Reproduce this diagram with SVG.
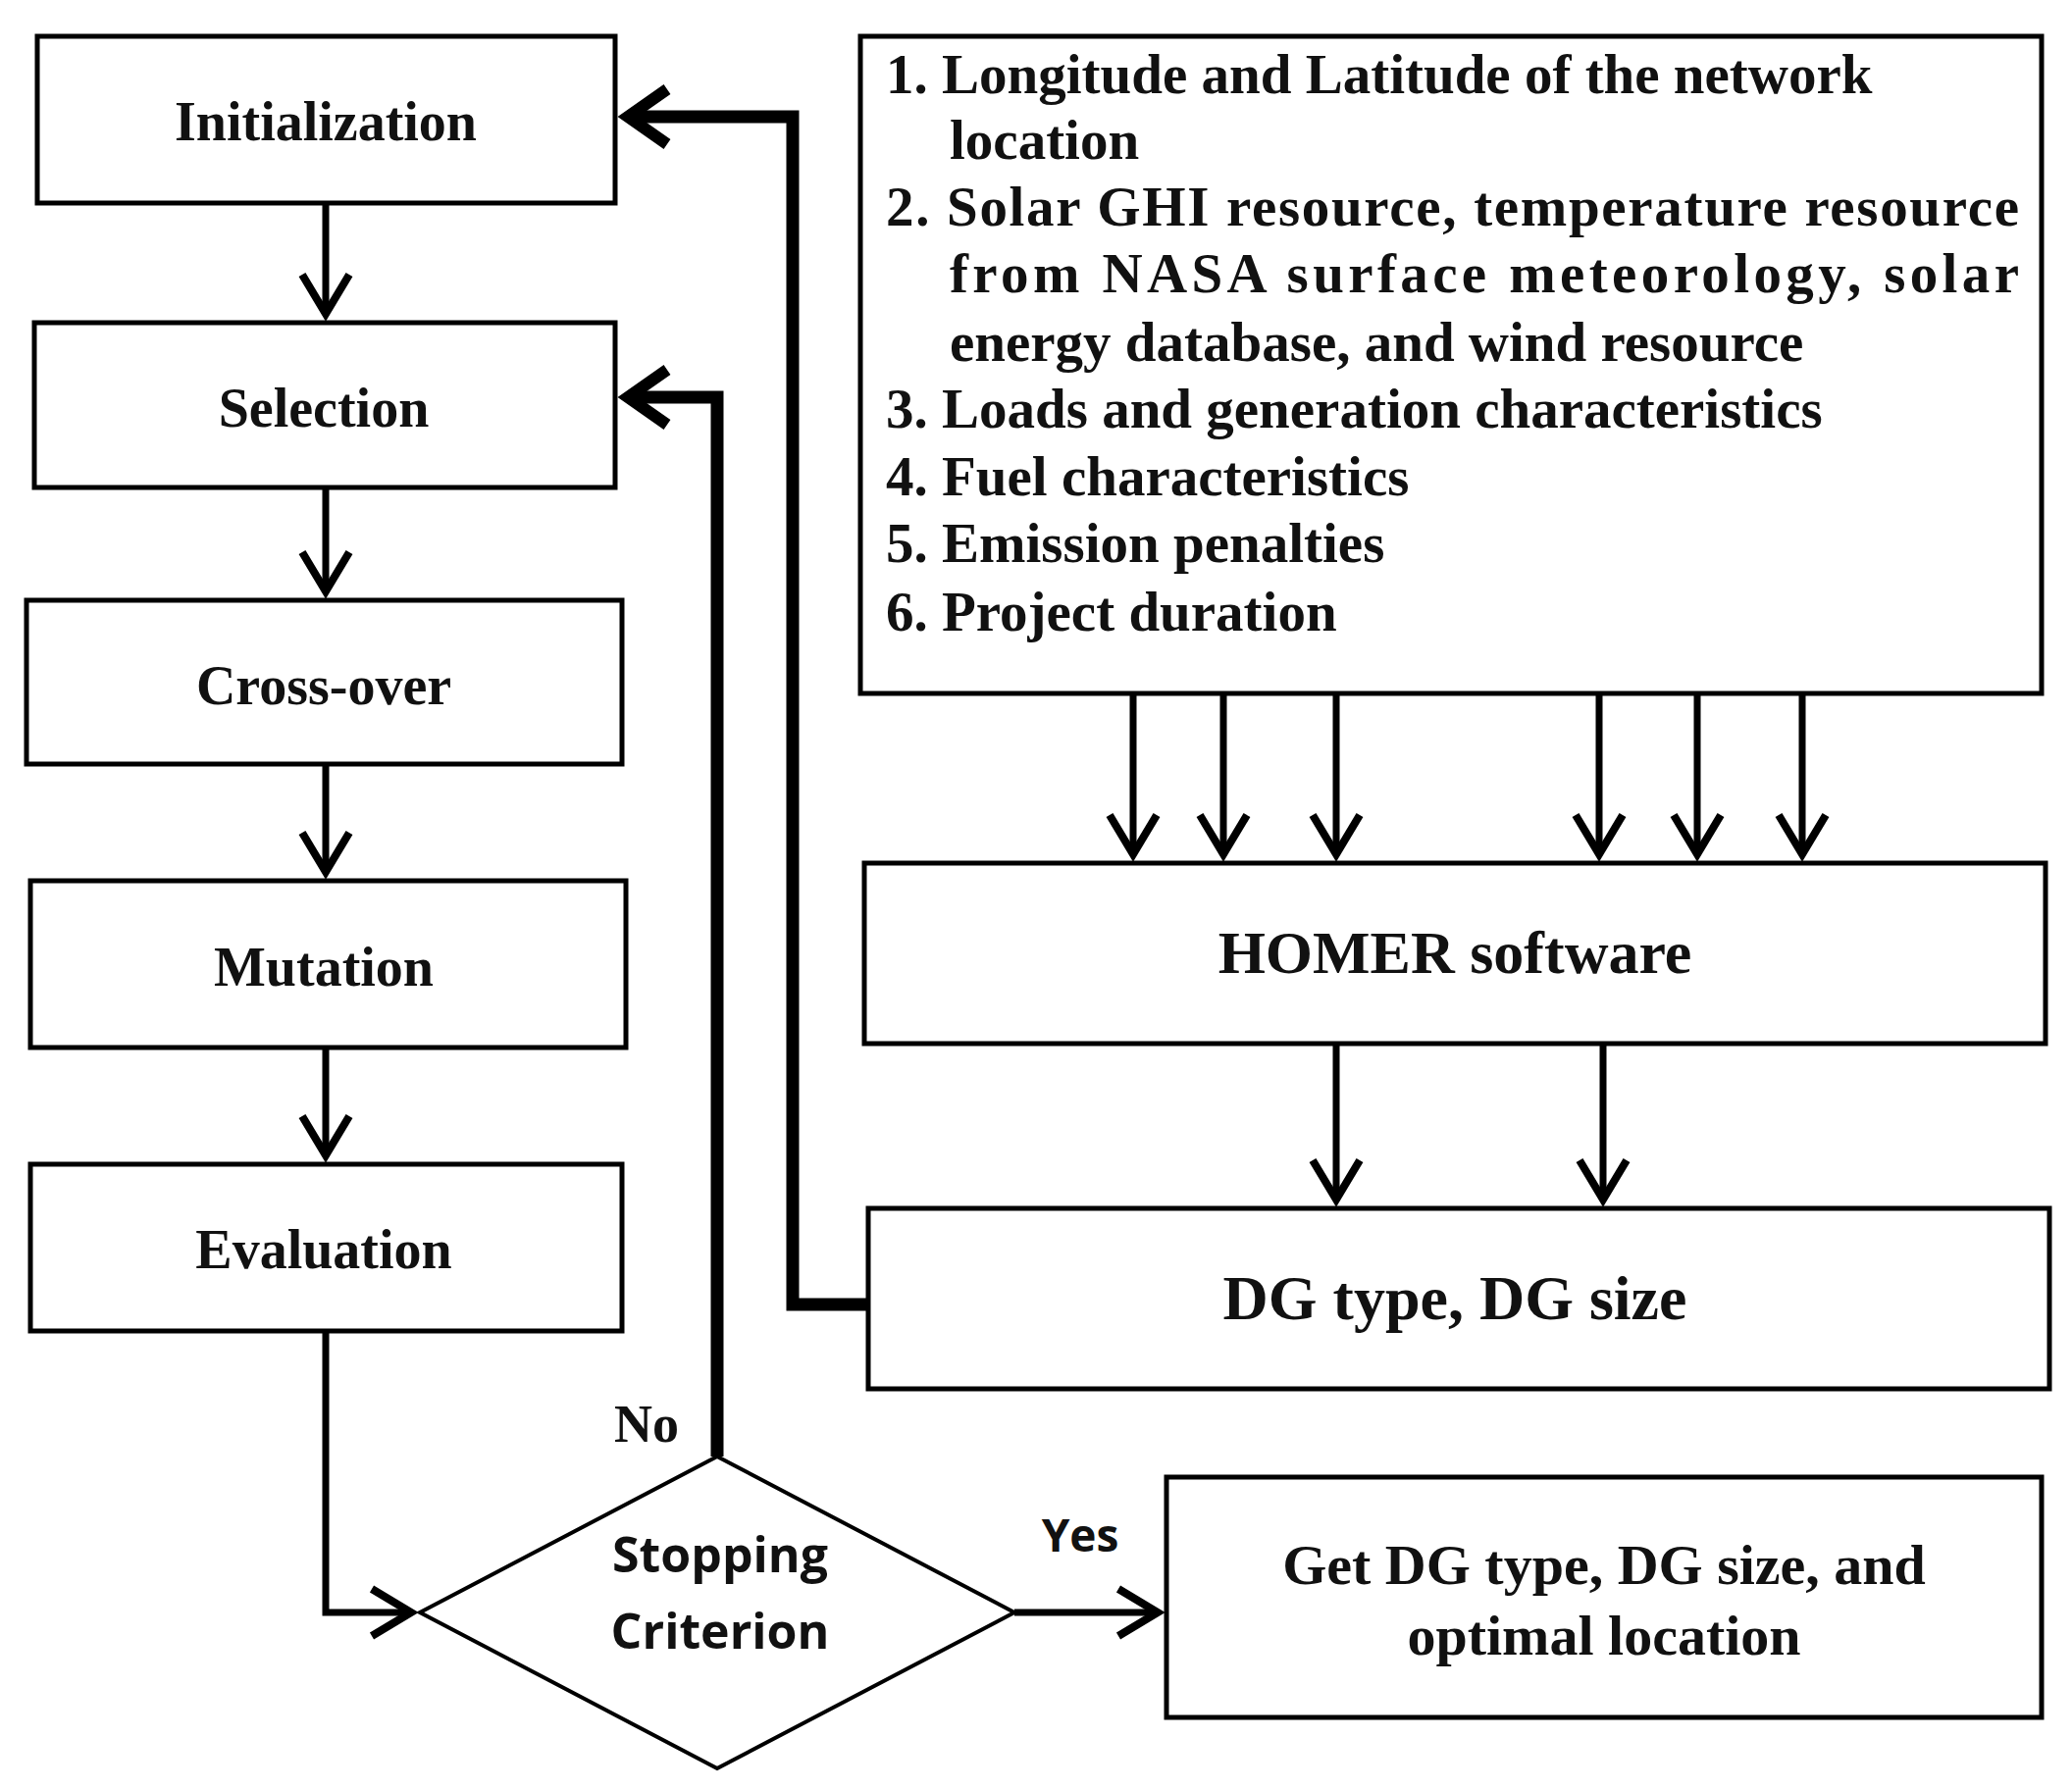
<svg xmlns="http://www.w3.org/2000/svg" width="2112" height="1824" viewBox="0 0 2112 1824">
<style>
.box{fill:#fff;stroke:#000;stroke-width:5}
.t{font-family:"Liberation Serif",serif;font-weight:bold;fill:#111}
.s{font-family:"Open Sans","Liberation Sans",sans-serif;font-weight:bold;fill:#111}
.c{fill:none;stroke:#000;stroke-width:7}
.f{fill:none;stroke:#000;stroke-width:13}
</style>
<defs>
<marker id="ah" viewBox="-50 -30 60 60" refX="0" refY="0" markerWidth="60" markerHeight="60" markerUnits="userSpaceOnUse" orient="auto" overflow="visible">
<path d="M-40,-24 L0,0 L-40,24" fill="none" stroke="#000" stroke-width="8"/>
</marker>
<marker id="ahf" viewBox="-50 -30 60 60" refX="0" refY="0" markerWidth="60" markerHeight="60" markerUnits="userSpaceOnUse" orient="auto" overflow="visible">
<path d="M-40,-28 L0,0 L-40,28" fill="none" stroke="#000" stroke-width="12"/>
</marker>
</defs>
<g id="connectors">
<path class="c" d="M332,207 V320" marker-end="url(#ah)"/>
<path class="c" d="M332,497 V603" marker-end="url(#ah)"/>
<path class="c" d="M332,779 V889" marker-end="url(#ah)"/>
<path class="c" d="M332,1068 V1178" marker-end="url(#ah)"/>
<path class="c" d="M332,1357 V1644 H419" marker-end="url(#ah)"/>
<path class="c" d="M1034,1644 H1180" marker-end="url(#ah)"/>
<path class="f" d="M731,1485 V405 H640" marker-end="url(#ahf)"/>
<path class="f" d="M885,1330 H808 V119 H640" marker-end="url(#ahf)"/>
<path class="c" d="M1155,707 V871" marker-end="url(#ah)"/>
<path class="c" d="M1247,707 V871" marker-end="url(#ah)"/>
<path class="c" d="M1362,707 V871" marker-end="url(#ah)"/>
<path class="c" d="M1630,707 V871" marker-end="url(#ah)"/>
<path class="c" d="M1730,707 V871" marker-end="url(#ah)"/>
<path class="c" d="M1837,707 V871" marker-end="url(#ah)"/>
<path class="c" d="M1362,1064 V1223" marker-end="url(#ah)"/>
<path class="c" d="M1634,1064 V1223" marker-end="url(#ah)"/>
</g>
<g id="init"><rect class="box" x="38" y="37" width="589" height="170"/><text class="t" x="332" y="143" font-size="56" text-anchor="middle">Initialization</text></g>
<g id="sel"><rect class="box" x="35" y="329" width="592" height="168"/><text class="t" x="330" y="435" font-size="56" text-anchor="middle">Selection</text></g>
<g id="cross"><rect class="box" x="27" y="612" width="607" height="167"/><text class="t" x="330" y="718" font-size="56" text-anchor="middle">Cross-over</text></g>
<g id="mut"><rect class="box" x="31" y="898" width="607" height="170"/><text class="t" x="330" y="1005" font-size="56" text-anchor="middle">Mutation</text></g>
<g id="eval"><rect class="box" x="31" y="1187" width="603" height="170"/><text class="t" x="330" y="1293" font-size="56" text-anchor="middle">Evaluation</text></g>
<g id="info"><rect class="box" x="877" y="37" width="1204" height="670"/>
<g class="t" font-size="57">
<text x="903" y="95">1. Longitude and Latitude of the network</text>
<text x="968" y="162">location</text>
<text x="903" y="230" textLength="1155" lengthAdjust="spacing">2. Solar GHI resource, temperature resource</text>
<text x="968" y="298" textLength="1090" lengthAdjust="spacing">from NASA surface meteorology, solar</text>
<text x="968" y="368">energy database, and wind resource</text>
<text x="903" y="436">3. Loads and generation characteristics</text>
<text x="903" y="505">4. Fuel characteristics</text>
<text x="903" y="573">5. Emission penalties</text>
<text x="903" y="643">6. Project duration</text>
</g></g>
<g id="homer"><rect class="box" x="881" y="880" width="1204" height="184"/><text class="t" x="1483" y="992" font-size="62" text-anchor="middle">HOMER software</text></g>
<g id="dg"><rect class="box" x="885" y="1232" width="1204" height="184"/><text class="t" x="1483" y="1345" font-size="64" text-anchor="middle">DG type, DG size</text></g>
<g id="get"><rect class="box" x="1189" y="1506" width="892" height="245"/><text class="t" x="1635" y="1615" font-size="58" text-anchor="middle">Get DG type, DG size, and</text><text class="t" x="1635" y="1687" font-size="58" text-anchor="middle">optimal location</text></g>
<g id="stop"><polygon points="428,1644 731,1485 1034,1644 731,1803" fill="#fff" stroke="#000" stroke-width="4"/><text class="s" x="734" y="1603" font-size="50" text-anchor="middle">Stopping</text><text class="s" x="734" y="1681" font-size="50" text-anchor="middle">Criterion</text></g>
<text class="t" x="659" y="1470" font-size="54" text-anchor="middle">No</text>
<text class="s" x="1101" y="1582" font-size="46" text-anchor="middle">Yes</text>
</svg>
